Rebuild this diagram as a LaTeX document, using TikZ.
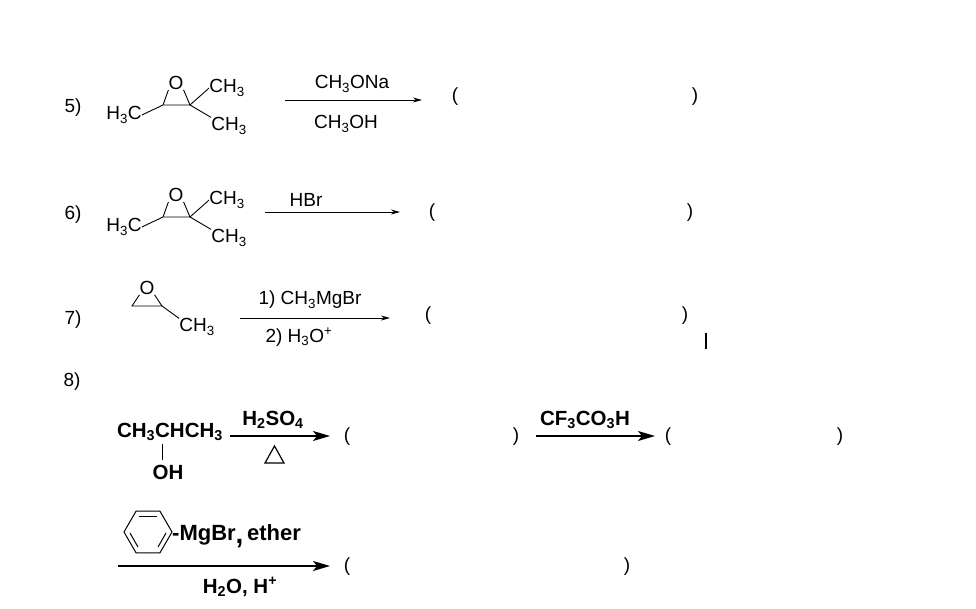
\documentclass[tikz,border=0pt]{standalone}
\usepackage{fontspec}
\setmainfont{Liberation Sans}
\usetikzlibrary{arrows.meta}
\newcommand{\sbs}[1]{\textsubscript{#1}}
\newcommand{\sps}[1]{\textsuperscript{#1}}
\begin{document}
\begin{tikzpicture}[x=1pt,y=-1pt,
  t/.style={inner sep=0pt,font=\fontsize{19}{22}\selectfont},
  b/.style={inner sep=0pt,font=\fontsize{20.5}{24}\selectfont\bfseries},
  bond/.style={line width=0.9pt},
  rx/.style={line width=0.9pt,-{Stealth[length=9pt,width=5pt]}},
  rxb/.style={line width=1.3pt,-{Stealth[length=17pt,width=10pt,inset=4pt]}}]
\useasboundingbox (0,0) rectangle (976,609);
% 5
\node[t] (n5) at (73,108) {5)};
\node[t] (a5) at (124,115) {H\sbs{3}C};
\coordinate (l5) at (163,105); \coordinate (r5) at (190,105);
\node[t] (o5) at (176,83) {O};
\node[t] (c5a) at (227,88) {CH\sbs{3}};
\node[t] (c5b) at (229,126) {CH\sbs{3}};
\draw[bond] (a5.east) -- (l5) -- (r5) -- (o5.south east);
\draw[bond] (l5) -- (o5.south west);
\draw[bond] (r5) -- (c5a.west); \draw[bond] (r5) -- (c5b.north west);
\coordinate (s5) at (285,100); \coordinate (e5) at (422,100);
\draw[rx] (s5) -- (e5);
\node[t] (m5) at (352,84) {CH\sbs{3}ONa};
\node[t] (m5b) at (346,124) {CH\sbs{3}OH};
\node[t] (p5a) at (455,97) {(}; \node[t] (p5b) at (695,97) {)};
% 6
\node[t] (n6) at (73,215) {6)};
\node[t] (a6) at (124,227) {H\sbs{3}C};
\coordinate (l6) at (163,217); \coordinate (r6) at (190,217);
\node[t] (o6) at (176,195) {O};
\node[t] (c6a) at (227,200) {CH\sbs{3}};
\node[t] (c6b) at (229,238) {CH\sbs{3}};
\draw[bond] (a6.east) -- (l6) -- (r6) -- (o6.south east);
\draw[bond] (l6) -- (o6.south west);
\draw[bond] (r6) -- (c6a.west); \draw[bond] (r6) -- (c6b.north west);
\coordinate (s6) at (265,212); \coordinate (e6) at (400,212);
\draw[rx] (s6) -- (e6);
\node[t] (m6) at (306,200) {HBr};
\node[t] (p6a) at (432,213) {(}; \node[t] (p6b) at (690,213) {)};
% 7
\node[t] (n7) at (73,320) {7)};
\node[t] (o7) at (147,288) {O};
\coordinate (l7) at (132,306); \coordinate (r7) at (162,306);
\node[t] (c7) at (197,327) {CH\sbs{3}};
\draw[bond] (o7.south west) -- (l7) -- (r7) -- (o7.south east);
\draw[bond] (r7) -- (c7.north west);
\coordinate (s7) at (240,318); \coordinate (e7) at (390,318);
\draw[rx] (s7) -- (e7);
\node[t] (m7) at (310,300) {1) CH\sbs{3}MgBr};
\node[t] (m7b) at (299,337) {2) H\sbs{3}O\sps{+}};
\node[t] (p7a) at (428,316) {(}; \node[t] (p7b) at (685,316) {)};
\coordinate (v1) at (706,333); \coordinate (v2) at (706,349);
\draw[line width=1.2pt] (v1) -- (v2);
% 8
\node[t] (n8) at (72,382) {8)};
\node[b] (r8) at (170,432) {CH\sbs{3}CHCH\sbs{3}};
\node[b] (oh) at (168,472) {OH};
\coordinate (q1) at (162,444); \coordinate (q2) at (162,460);
\draw[bond] (q1) -- (q2);
\coordinate (s8) at (230,436); \coordinate (e8) at (330,436);
\draw[rxb] (s8) -- (e8);
\node[b] (m8) at (273,420) {H\sbs{2}SO\sbs{4}};
\coordinate (ta) at (265,463); \coordinate (tb) at (284,463); \coordinate (tc) at (274.5,446);
\draw[line width=1.2pt] (ta) -- (tb) -- (tc) -- cycle;
\node[t] (p8a) at (347,437) {(}; \node[t] (p8b) at (516,437) {)};
\coordinate (s9) at (536,436); \coordinate (e9) at (655,436);
\draw[rxb] (s9) -- (e9);
\node[b] (m9) at (585,420) {CF\sbs{3}CO\sbs{3}H};
\node[t] (p9a) at (668,437) {(}; \node[t] (p9b) at (840,437) {)};
% benzene
\coordinate (bz) at (148,532);
\draw[line width=1pt] (bz) ++(0:24) -- ++(120:24) -- ++(180:24) -- ++(240:24) -- ++(300:24) -- ++(0:24) -- cycle;
\draw[line width=1pt] ([shift={(-9,-16)}]bz) -- ([shift={(9,-16)}]bz);
\draw[line width=1pt] ([shift={(-18,1)}]bz) -- ([shift={(-10,15)}]bz);
\draw[line width=1pt] ([shift={(18,1)}]bz) -- ([shift={(10,15)}]bz);
\node[b,anchor=west,font=\fontsize{22}{26}\selectfont\bfseries] (mg) at (172,536) {-MgBr\raisebox{-3pt}{\fontsize{28}{28}\selectfont,}\,ether};
\coordinate (s10) at (118,566); \coordinate (e10) at (330,566);
\draw[rxb] (s10) -- (e10);
\node[b] (m10) at (240,587) {H\sbs{2}O, H\sps{+}};
\node[t] (p10a) at (347,567) {(}; \node[t] (p10b) at (627,567) {)};
\end{tikzpicture}
\end{document}
